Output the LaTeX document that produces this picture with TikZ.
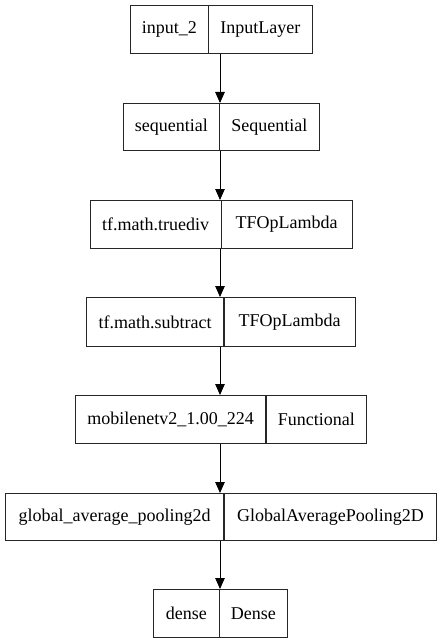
\documentclass[tikz,border=0pt]{standalone}
\usepackage{fontspec}
\setmainfont{Liberation Serif}
\usetikzlibrary{arrows.meta}
\newcommand\rowbox[8]{%
  \node[cell, minimum width={(#3)-(#2)}, minimum height={(#6)-(#5)}] (#1l) at (#2,#5) {#7};
  \node[cell, minimum width={(#4)-(#3)}, minimum height={(#6)-(#5)}] (#1r) at (#3,#5) {#8};
}
\begin{document}
\begin{tikzpicture}[x=1bp,y=-1bp,
  cell/.style={draw=black!85, line width=0.9bp, inner sep=0pt, anchor=north west,
    font=\fontsize{18bp}{20bp}\selectfont},
  arr/.style={-{Triangle[length=11bp,width=9.5bp]}, line width=0.9bp}]
\useasboundingbox (0,0) rectangle (441,644);
\coordinate (ax) at (220,0);
\rowbox{a}{130}{208}{312}{5}{53}{input\_2}{InputLayer}
\rowbox{b}{123}{219}{319}{103}{150}{sequential}{Sequential}
\rowbox{c}{90}{221}{352}{200}{248}{tf.math.truediv}{TFOpLambda}
\rowbox{d}{86}{224}{355}{297}{346}{tf.math.subtract}{TFOpLambda}
\rowbox{e}{75}{266}{366}{395}{443}{mobilenetv2\_1.00\_224}{Functional}
\rowbox{f}{5}{224}{437}{493}{540}{global\_average\_pooling2d}{GlobalAveragePooling2D}
\rowbox{g}{153}{219}{287}{589}{637}{dense}{Dense}
\draw[arr] (al.south -| ax) -- (bl.north -| ax);
\draw[arr] (bl.south -| ax) -- (cl.north -| ax);
\draw[arr] (cl.south -| ax) -- (dl.north -| ax);
\draw[arr] (dl.south -| ax) -- (el.north -| ax);
\draw[arr] (el.south -| ax) -- (fl.north -| ax);
\draw[arr] (fl.south -| ax) -- (gl.north -| ax);
\end{tikzpicture}
\end{document}
